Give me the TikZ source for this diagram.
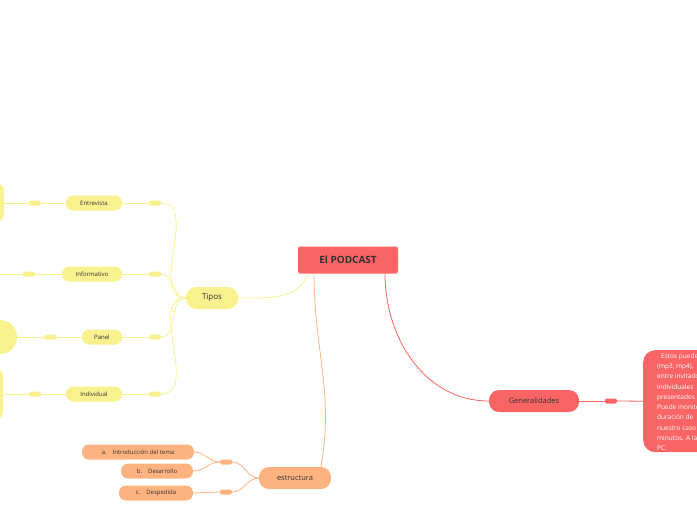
\documentclass[tikz,border=0pt]{standalone}
\usepackage{fontspec}
\setmainfont{Open Sans}
\definecolor{cred}{HTML}{F96464}
\definecolor{cyel}{HTML}{F9F08E}
\definecolor{cora}{HTML}{FDB37F}
\definecolor{txt}{HTML}{333333}
\begin{document}
\begin{tikzpicture}[x=1pt,y=-1pt,
 pill/.style={rounded corners=7pt,minimum height=15pt,inner xsep=6pt,font=\fontsize{6}{7}\selectfont,text=txt},
 tab/.style={rounded corners=2pt,minimum width=12pt,minimum height=5pt,inner sep=0pt},
 yl/.style={draw=cyel,line width=0.8pt},
 ol/.style={draw=cora,line width=0.8pt},
 rl/.style={draw=cred,line width=0.8pt}]
\useasboundingbox (0,0) rectangle (697,520);
\begin{scope}
\clip (0,0) rectangle (697,520);
% main
\node[fill=cred,rounded corners=2pt,minimum width=100pt,minimum height=27pt,font=\bfseries\fontsize{10}{12}\selectfont,text=txt] (main) at (348,260) {El PODCAST};
% Tipos branch
\node[pill,fill=cyel,minimum width=52pt,minimum height=22pt,font=\fontsize{8}{9}\selectfont,rounded corners=10pt] (tipos) at (212,298) {Tipos};
\draw[yl] (main.south west)++(10,0) coordinate (m1) (m1) to[out=-110,in=0] (tipos.east);
\foreach \n/\t/\y/\x/\w/\lx in {en/Entrevista/203/94/56/35, in/Informativo/274/92/60/29, pa/Panel/337/102/40/50, ind/Individual/394/94/56/35}{
 \node[pill,fill=cyel,minimum width=\w pt] (\n) at (\x,\y) {\t};
 \node[tab,fill=cyel] (\n t) at (155,\y) {};
 \node[tab,fill=cyel] (\n l) at (\lx,\y) {};
 \draw[yl] (\n.east) -- (\n t.west);
 \draw[yl] (\n l.east) -- (\n.west);
 \draw[yl] (\n l.west) -- ++(-30,0);
 \draw[yl] (\n t.east) to[out=0,in=180] (tipos.west);
}
\fill[cyel,rounded corners=8pt] (-20,183) rectangle (4,222);
\fill[cyel] (0,337) circle (17);
\fill[cyel,rounded corners=8pt] (-20,368) rectangle (3,420);
% estructura
\node[pill,fill=cora,minimum width=72pt,minimum height=22pt,font=\fontsize{7.5}{9}\selectfont,rounded corners=10pt] (est) at (295,478) {estructura};
\draw[ol] ([xshift=-34pt]main.south) to[out=-90,in=80] ([xshift=26pt]est.north);
\node[pill,fill=cora,minimum width=112pt] (a) at (138,452) {a.\quad Introducción del tema};
\node[pill,fill=cora,minimum width=72pt] (b) at (157,471) {b.\quad Desarrollo};
\node[pill,fill=cora,minimum width=74pt] (c) at (156,493) {c.\quad Despedida};
\node[tab,fill=cora] (t1) at (226,462) {};
\node[tab,fill=cora] (t2) at (226,492) {};
\draw[ol] (a.east) to[out=0,in=180] (t1.west);
\draw[ol] (b.east) to[out=0,in=180] (t1.west);
\draw[ol] (c.east) -- (t2.west);
\draw[ol] (t1.east) to[out=0,in=180] (est.west);
\draw[ol] (t2.east) to[out=0,in=180] (est.west);
% Generalidades
\node[pill,fill=cred,minimum width=90pt,minimum height=22pt,font=\fontsize{7.5}{9}\selectfont,rounded corners=10pt] (gen) at (534,401) {Generalidades};
\draw[rl] ([xshift=37pt]main.south) to[out=-90,in=180] (gen.west);
\node[tab,fill=cred] (gt) at (611,401) {};
\draw[rl] (gen.east) -- (gt.west);
\node[fill=cred,rounded corners=12pt,minimum width=90pt,minimum height=102pt,anchor=north west] (box) at (643,350) {};
\node[anchor=north west,align=left,text=white,font=\fontsize{6.5}{10.3}\selectfont,inner sep=0pt] (bt) at (657,353) {. Estos pueden\\(mp3, mp4),\\entre invitados\\individuales\\presentados\\Puede monitorear\\duración de\\nuestro caso\\minutos. A la\\PC.};
\draw[rl] (gt.east) -- (box.west);
\end{scope}
\end{tikzpicture}
\end{document}
